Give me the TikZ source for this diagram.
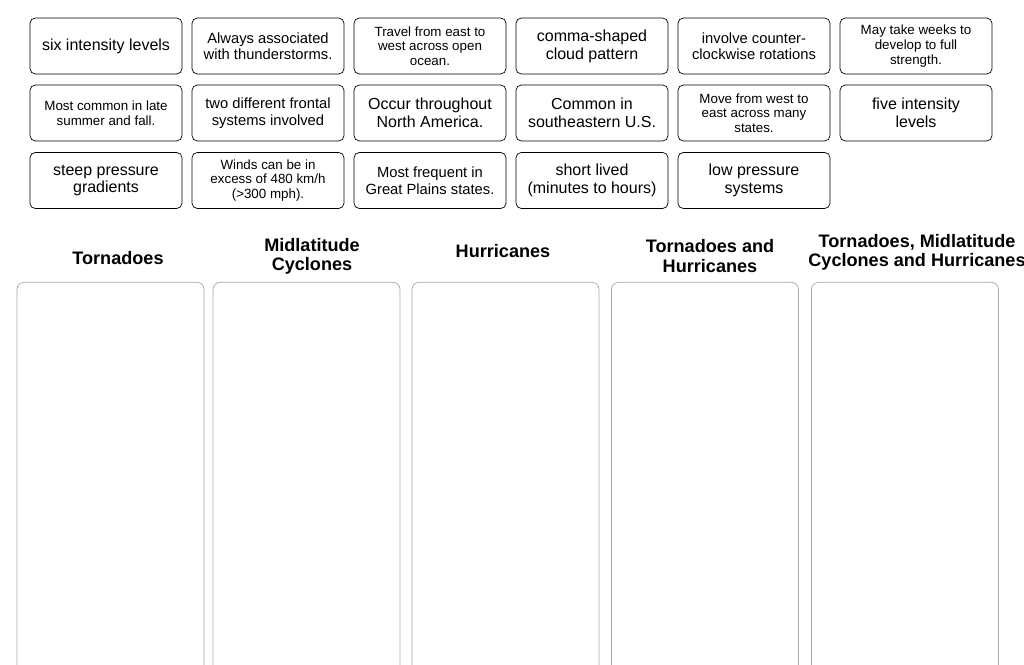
\documentclass[tikz,border=0pt]{standalone}
\usepackage{fontspec}
\setmainfont{Liberation Sans}
\usetikzlibrary{positioning}
\begin{document}
\begin{tikzpicture}[x=0.02cm, y=-0.02cm,
        card/.style={draw, rounded corners=3pt, minimum width=3.04cm,
                     minimum height=1.12cm, align=center, inner sep=1pt},
        cL/.style={card, font=\fontsize{9.1}{10.2}\selectfont},
        cM/.style={card, font=\fontsize{8.4}{9.4}\selectfont},
        cS/.style={card, font=\fontsize{7.6}{8.3}\selectfont},
        bin/.style={draw=gray!70, rounded corners=4pt, minimum width=3.74cm,
                    minimum height=8.4cm, anchor=north},
        hd/.style={font=\bfseries\fontsize{10.3}{11}\selectfont, align=center}]
        \useasboundingbox (0,0) rectangle (1024,665);
        % Cartes
        \node[cL] (six) at (106,46) {six intensity levels};
        \node[cM] (thunder) at (268,46) {Always associated\\with thunderstorms.};
        \node[cS] (eastwest) at (430,46) {Travel from east to\\west across open\\ocean.};
        \node[cL] (comma) at (592,46) {comma-shaped\\cloud pattern};
        \node[cM] (counter) at (754,46) {involve counter-\\clockwise rotations};
        \node[cS] (weeks) at (916,46) {May take weeks to\\develop to full\\strength.};
        \node[cS] (summer) at (106,113) {Most common in late\\summer and fall.};
        \node[cM] (frontal) at (268,113) {two different frontal\\systems involved};
        \node[cL] (northam) at (430,113) {Occur throughout\\North America.};
        \node[cL] (southeast) at (592,113) {Common in\\southeastern U.S.};
        \node[cS] (westeast) at (754,113) {Move from west to\\east across many\\states.};
        \node[cL] (five) at (916,113) {five intensity\\levels};
        \node[cL] (steep) at (106,180.5) {steep pressure\\gradients};
        \node[cS] (winds) at (268,180.5) {Winds can be in\\excess of 480 km/h\\(>300 mph).};
        \node[cM] (plains) at (430,180.5) {Most frequent in\\Great Plains states.};
        \node[cL] (short) at (592,180.5) {short lived\\(minutes to hours)};
        \node[cL] (low) at (754,180.5) {low pressure\\systems};
        % Colonnes
        \node[bin] (torbin) at (110.5,282) {};
        \node[bin] (midbin) at (306.5,282) {};
        \node[bin] (hurbin) at (505.5,282) {};
        \node[bin] (thbin) at (705,282) {};
        \node[bin] (allbin) at (905,282) {};
        % Titres
        \node[hd] (tor) at (118,258) {Tornadoes};
        \node[hd] (mid) at (312,256) {Midlatitude\\Cyclones};
        \node[hd] (hur) at (503,251) {Hurricanes};
        \node[hd] (th) at (710,256) {Tornadoes and\\Hurricanes};
        \node[hd] (all) at (917,252) {Tornadoes, Midlatitude\\Cyclones and Hurricanes};
\end{tikzpicture}
\end{document}
